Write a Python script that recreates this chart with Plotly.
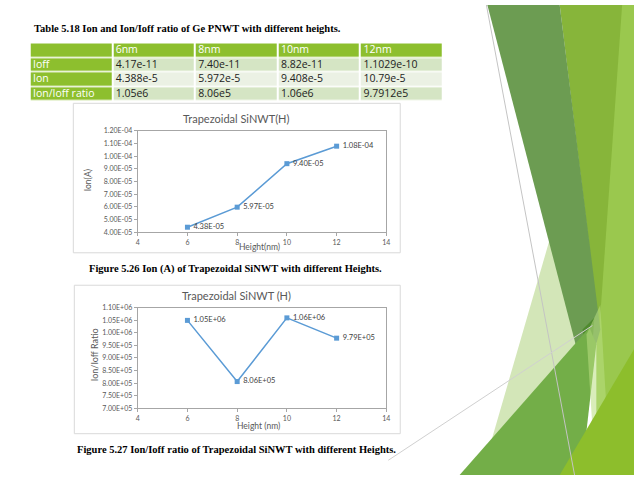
import plotly.graph_objects as go

# ---------------- data ----------------
heights = [6, 8, 10, 12]
header_labels = ["", "6nm", "8nm", "10nm", "12nm"]
row_names = ["Ioff", "Ion", "Ion/Ioff ratio"]
ioff_text = ["4.17e-11", "7.40e-11", "8.82e-11", "1.1029e-10"]
ion_text = ["4.388e-5", "5.972e-5", "9.408e-5", "10.79e-5"]
ratio_text = ["1.05e6", "8.06e5", "1.06e6", "9.7912e5"]

ion_values = [4.388e-5, 5.972e-5, 9.408e-5, 10.79e-5]
ion_point_labels = ["4.38E-05", "5.97E-05", "9.40E-05", "1.08E-04"]
ratio_values = [1.05e6, 8.06e5, 1.06e6, 9.7912e5]
ratio_point_labels = ["1.05E+06", "8.06E+05", "1.06E+06", "9.79E+05"]

x_ticks = [4, 6, 8, 10, 12, 14]
ion_ticks = [4e-5, 5e-5, 6e-5, 7e-5, 8e-5, 9e-5, 1e-4, 1.1e-4, 1.2e-4]
ion_tick_labels = ["4.00E-05", "5.00E-05", "6.00E-05", "7.00E-05", "8.00E-05",
                   "9.00E-05", "1.00E-04", "1.10E-04", "1.20E-04"]
ratio_ticks = [7e5, 7.5e5, 8e5, 8.5e5, 9e5, 9.5e5, 1e6, 1.05e6, 1.1e6]
ratio_tick_labels = ["7.00E+05", "7.50E+05", "8.00E+05", "8.50E+05", "9.00E+05",
                     "9.50E+05", "1.00E+06", "1.05E+06", "1.10E+06"]

slide_title = "Table 5.18 Ion and Ion/Ioff ratio of Ge PNWT with different heights."
chart1_title = "Trapezoidal SiNWT(H)"
chart2_title = "Trapezoidal SiNWT (H)"
chart1_xtitle = "Height(nm)"
chart2_xtitle = "Height (nm)"
chart1_ytitle = "Ion(A)"
chart2_ytitle = "Ion/Ioff Ratio"
caption1 = "Figure 5.26 Ion (A) of Trapezoidal SiNWT with different Heights."
caption2 = "Figure 5.27 Ion/Ioff ratio of Trapezoidal SiNWT with different Heights."

# ---------------- helpers (pixel -> paper) ----------------
W, H = 638, 478
def px(x):
    return x / W
def py(y):
    return 1 - y / H
def path(pts):
    return "M " + " L ".join(f"{px(x):.4f},{py(y):.4f}" for x, y in pts) + " Z"

GREEN = "#8dbf2e"
ROW_DARK = "#d5e5c4"
ROW_LIGHT = "#ebf1e4"
BLUE = "#5b9bd5"
AXIS = "#a6a6a6"
TXT = "#595959"

fig = go.Figure()

# ---------------- table (heatmap cells + text) ----------------
table_rows = [header_labels] + [[row_names[r]] + [ioff_text, ion_text, ratio_text][r] for r in range(3)]
n_rows, n_cols = len(table_rows), len(table_rows[0])
z = []
for r in range(n_rows):
    z.append([0 if (r == 0 or c == 0) else (1 if r % 2 == 1 else 2) for c in range(n_cols)])
fig.add_trace(go.Heatmap(
    z=z, x=list(range(n_cols)), y=list(range(n_rows)), zmin=0, zmax=2,
    colorscale=[[0, GREEN], [0.5, ROW_DARK], [1, ROW_LIGHT]], showscale=False,
    xgap=2, ygap=1.5, hoverinfo="skip", xaxis="x3", yaxis="y3"))
tx, ty, tt, tc = [], [], [], []
for r in range(n_rows):
    for c in range(n_cols):
        tx.append(c - 0.46)
        ty.append(r)
        tt.append(table_rows[r][c])
        tc.append("white" if (r == 0 or c == 0) else "#222222")
fig.add_trace(go.Scatter(
    x=tx, y=ty, text=tt, mode="text", textposition="middle right",
    textfont=dict(family="Open Sans", size=10.5, color=tc), hoverinfo="skip",
    xaxis="x3", yaxis="y3", showlegend=False, cliponaxis=False))

# ---------------- charts ----------------
fig.add_trace(go.Scatter(
    x=heights, y=ion_values, mode="lines+markers+text", text=[" " + t for t in ion_point_labels],
    textposition="middle right", textfont=dict(family="Lato", size=7.5, color="#404040"),
    line=dict(color=BLUE, width=1.5), marker=dict(symbol="square", size=5, color=BLUE),
    xaxis="x", yaxis="y", showlegend=False, cliponaxis=False))
fig.add_trace(go.Scatter(
    x=heights, y=ratio_values, mode="lines+markers+text", text=[" " + t for t in ratio_point_labels],
    textposition="middle right", textfont=dict(family="Lato", size=7.5, color="#404040"),
    line=dict(color=BLUE, width=1.5), marker=dict(symbol="square", size=5, color=BLUE),
    xaxis="x2", yaxis="y2", showlegend=False, cliponaxis=False))

axis_common = dict(showline=True, linecolor=AXIS, linewidth=1, mirror=True,
                   ticks="outside", ticklen=3, tickcolor=AXIS, showgrid=False,
                   zeroline=False, tickfont=dict(family="Lato", size=7, color=TXT))
hidden = dict(visible=False, showgrid=False, zeroline=False, fixedrange=True)

fig.update_layout(
    width=W, height=H, margin=dict(l=0, r=0, t=0, b=0),
    paper_bgcolor="white", plot_bgcolor="rgba(0,0,0,0)", showlegend=False,
    xaxis=dict(domain=[px(137), px(388)], anchor="y", range=[4, 14],
               tickvals=x_ticks, **axis_common),
    yaxis=dict(domain=[py(231), py(128)], anchor="x", range=[4e-5, 1.2e-4],
               tickvals=ion_ticks, ticktext=ion_tick_labels, **axis_common),
    xaxis2=dict(domain=[px(137), px(388)], anchor="y2", range=[4, 14],
                tickvals=x_ticks, **axis_common),
    yaxis2=dict(domain=[py(410), py(308)], anchor="x2", range=[7e5, 1.1e6],
                tickvals=ratio_ticks, ticktext=ratio_tick_labels, **axis_common),
    xaxis3=dict(domain=[px(28), px(445)], anchor="y3", range=[-0.5, n_cols - 0.5], **hidden),
    yaxis3=dict(domain=[py(98), py(39)], anchor="x3", range=[n_rows - 0.5, -0.5], **hidden),
)

# ---------------- shapes ----------------
shapes = []
# chart boxes
for (x0, y0, x1, y1) in [(72, 100, 402, 252), (73, 285, 402, 436)]:
    shapes.append(dict(type="rect", xref="paper", yref="paper",
                       x0=px(x0), x1=px(x1), y0=py(y1), y1=py(y0),
                       line=dict(color="#d9d9d9", width=1), fillcolor="white", layer="below"))

# decorative background polygons on the right
deco = [
    ([(600, 0), (638, 0), (638, 478), (600, 478)], "#9ac84e"),
    ([(563, 0), (626, 0), (603, 330)], "#87b53a"),
    ([(553, 238), (588, 372), (484, 478)], "#d3e6b8"),
    ([(490, 0), (563, 0), (604, 330), (590, 380), (586, 372)], "#6c9c52"),
    ([(586, 330), (598, 318), (594, 372)], "#4f8a2f"),
    ([(462, 478), (593, 328), (600, 345), (585, 478)], "#73ae48"),
    ([(590, 335), (604, 305), (612, 440), (598, 460)], "rgba(185,222,130,0.55)"),
    ([(563, 478), (638, 350), (638, 478)], "#8dbe2c"),
]
for pts, col in deco:
    shapes.append(dict(type="path", xref="paper", yref="paper", path=path(pts),
                       fillcolor=col, line=dict(width=0), layer="below"))
# thin gray lines
shapes.append(dict(type="line", xref="paper", yref="paper", x0=px(489), y0=py(0),
                   x1=px(578), y1=py(478), line=dict(color="#c4c4c4", width=1)))
shapes.append(dict(type="line", xref="paper", yref="paper", x0=px(390), y0=py(463),
                   x1=px(596), y1=py(326), line=dict(color="#d0d0d0", width=1)))
fig.update_layout(shapes=shapes)

# ---------------- text ----------------
def ann(text, x, y, size, family, color="black", bold=False, xanchor="center", angle=0):
    t = f"<b>{text}</b>" if bold else text
    return dict(text=t, x=px(x), y=py(y), xref="paper", yref="paper", showarrow=False,
                xanchor=xanchor, yanchor="middle", textangle=angle,
                font=dict(family=family, size=size, color=color))

annotations = [
    ann(slide_title, 30, 24, 10.5, "Liberation Serif", bold=True, xanchor="left"),
    ann(chart1_title, 237, 115, 11, "Lato", TXT),
    ann(chart2_title, 237, 295, 11, "Lato", TXT),
    ann(chart1_xtitle, 260, 246, 8.5, "Lato", TXT),
    ann(chart2_xtitle, 259, 428, 8.5, "Lato", TXT),
    ann(chart1_ytitle, 87, 178, 8.5, "Lato", TXT, angle=-90),
    ann(chart2_ytitle, 93, 356, 9, "Lato", TXT, angle=-90),
    ann(caption1, 236, 268, 10.5, "Liberation Serif", bold=True),
    ann(caption2, 237, 452, 10.5, "Liberation Serif", bold=True),
]
fig.update_layout(annotations=annotations)

fig.write_html("out.html")
